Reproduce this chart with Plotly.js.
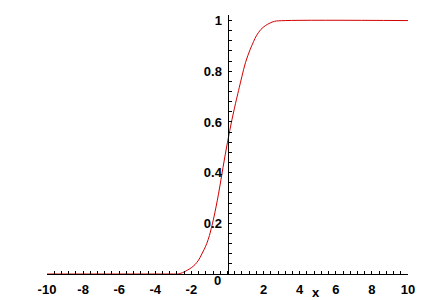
<!DOCTYPE html>
<html>
<head>
<meta charset="utf-8">
<script src="https://cdn.plot.ly/plotly-3.0.1.min.js"></script>
<style>html,body{margin:0;padding:0;background:#fff;}#chart{width:432px;height:300px;}</style>
</head>
<body>
<div id="chart"></div>
<script>
// Curve values
const xValues = [-10, -3, -2.75, -2.5, -2.2, -2.0, -1.8, -1.6, -1.45, -1.3, -1.15, -1.0, -0.9, -0.75, -0.5, -0.25, 0, 0.25, 0.5, 0.65, 0.8, 1.0, 1.25, 1.45, 1.6, 1.85, 2.1, 2.35, 2.6, 3.2, 10];
const yValues = [0, 0, 0, 0.005, 0.016, 0.025, 0.037, 0.055, 0.075, 0.096, 0.12, 0.152, 0.18, 0.225, 0.315, 0.42, 0.52, 0.61, 0.69, 0.735, 0.78, 0.835, 0.885, 0.918, 0.94, 0.965, 0.98, 0.99, 0.997, 1, 1];

// Tick labels
const xTickVals = [-10, -8, -6, -4, -2, 2, 4, 6, 8, 10];
const xTickText = ["-10", "-8", "-6", "-4", "-2", "2", "4", "6", "8", "10"];
const yTickVals = [0.2, 0.4, 0.6, 0.8, 1];
const yTickText = ["0.2", "0.4", "0.6", "0.8", "1"];
const originLabel = "0";
const xAxisLabel = "x";

const tickFont = {family: "Liberation Sans, Arial, sans-serif", size: 13, color: "#000", weight: "bold"};

const trace = {
  x: xValues, y: yValues, type: "scatter", mode: "lines",
  line: {color: "#d00000", width: 1, shape: "spline", smoothing: 1},
  hoverinfo: "skip"
};

const layout = {
  width: 432, height: 300,
  margin: {l: 47, r: 24, t: 15, b: 26, pad: 0},
  paper_bgcolor: "#fff", plot_bgcolor: "#fff",
  showlegend: false,
  xaxis: {
    range: [-10, 10], showgrid: false, zeroline: false,
    showline: true, linecolor: "#000", linewidth: 1,
    tickmode: "array", tickvals: xTickVals, ticktext: xTickText,
    ticks: "inside", ticklen: 3, tickcolor: "#000", tickwidth: 1,
    minor: {dtick: 0.4, tick0: 0, ticks: "inside", ticklen: 3, tickcolor: "#000", tickwidth: 1, showgrid: false},
    tickfont: tickFont, ticklabelstandoff: 3, ticklabeloverflow: "allow", fixedrange: true
  },
  yaxis: {
    range: [0, 1.022], showgrid: false, zeroline: false,
    anchor: "free", position: 0.5, side: "left",
    showline: true, linecolor: "#000", linewidth: 1,
    tickmode: "array", tickvals: yTickVals, ticktext: yTickText,
    ticks: "inside", ticklen: 3, tickcolor: "#000", tickwidth: 1,
    minor: {dtick: 0.04, tick0: 0, ticks: "inside", ticklen: 3, tickcolor: "#000", tickwidth: 1, showgrid: false},
    tickfont: tickFont, ticklabelstandoff: 3, fixedrange: true
  },
  annotations: [
    {x: 4.9, y: 0, xref: "x", yref: "y", text: xAxisLabel, showarrow: false,
     yanchor: "top", yshift: -9, font: tickFont},
    {x: 0, y: 0, xref: "x", yref: "y", text: originLabel, showarrow: false,
     xanchor: "right", yanchor: "middle", xshift: -5, yshift: -6, font: tickFont}
  ]
};

Plotly.newPlot("chart", [trace], layout, {staticPlot: true, displayModeBar: false});
</script>
</body>
</html>
